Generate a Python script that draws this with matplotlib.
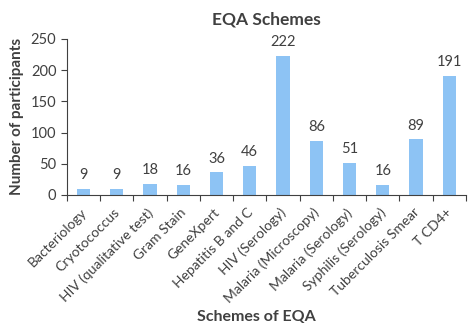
import numpy as np
import matplotlib.pyplot as plt

plt.rcParams['font.family'] = ['Lato', 'DejaVu Sans']

schemes = ['Bacteriology', 'Cryotococcus', 'HIV (qualitative test)', 'Gram Stain',
           'GeneXpert', 'Hepatitis B and C', 'HIV (Serology)', 'Malaria (Microscopy)',
           'Malaria (Serology)', 'Syphilis (Serology)', 'Tuberculosis Smear', 'T CD4+']
participants = [9, 9, 18, 16, 36, 46, 222, 86, 51, 16, 89, 191]

txt = '#404040'
fig = plt.figure(figsize=(4.74, 3.35), dpi=100)
ax = fig.add_axes([0.141, 0.418, 0.842, 0.466])

x = np.arange(len(schemes))
ax.bar(x, participants, width=0.4, color='#8DC3F4')
for xi, v in zip(x, participants):
    ax.text(xi, v + 11, str(v), ha='center', va='bottom', fontsize=10.5, color=txt)

ax.set_xlim(-0.5, len(schemes) - 0.5)
ax.set_ylim(0, 250)
ax.set_yticks([0, 50, 100, 150, 200, 250])
ax.set_xticks(np.arange(len(schemes) + 1) - 0.5)
ax.set_xticklabels([])
# labels sit under the bars, angled like a spreadsheet chart
ax.set_xticks(x - 0.1, minor=True)
ax.set_xticklabels(schemes, minor=True, rotation=45, ha='right',
                   rotation_mode='anchor', fontsize=10, color=txt)
ax.tick_params(axis='x', which='minor', length=0, pad=8)
ax.tick_params(axis='x', which='major', length=4, direction='out', color='#404040')
ax.tick_params(axis='y', length=4, labelsize=10.5, labelcolor=txt, color='#404040')

for s in ['top', 'right']:
    ax.spines[s].set_visible(False)
for s in ['left', 'bottom']:
    ax.spines[s].set_color('#404040')

ax.set_title('EQA Schemes', fontsize=12.5, fontweight='bold', color=txt, pad=10)
ax.set_ylabel('Number of participants', fontsize=11, fontweight='bold', color=txt,
              labelpad=5)
fig.text(0.54, 0.054, 'Schemes of EQA', ha='center', va='center', fontsize=11.5,
         fontweight='bold', color=txt)

fig.savefig('out.png', dpi=100)
